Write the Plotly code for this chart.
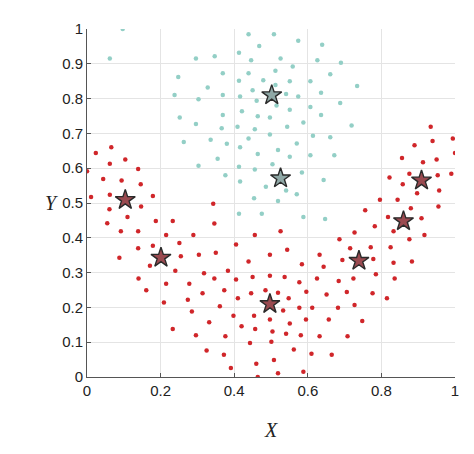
import plotly.graph_objects as go

# teal cluster
teal_x = [.097, .062, .439, .508, .468, .574, .639, .296, .347, .413, .446, .526, .690, .626, .559,
          .248, .369, .439, .512, .661, .413, .479, .551, .607, .734, .328, .450, .512, .238, .303,
          .369, .416, .461, .541, .574, .636, .688, .421, .515, .551, .607, .252, .296, .369, .464,
          .497, .636, .588, .366, .409, .456, .544, .719, .497, .614, .263, .336, .380, .439, .570,
          .661, .416, .519, .464, .551, .607, .672, .355, .303, .413, .456, .504, .376, .416, .584,
          .643, .486, .541, .570, .454, .519, .413, .475, .588, .647]
teal_y = [1.0, .915, .985, .985, .951, .966, .955, .915, .922, .932, .910, .915, .903, .910, .892,
          .862, .873, .873, .880, .870, .851, .853, .850, .850, .836, .832, .824, .839, .810, .798,
          .810, .806, .794, .813, .806, .817, .787, .764, .780, .768, .776, .746, .727, .753, .749,
          .746, .753, .731, .715, .719, .712, .719, .723, .697, .693, .675, .682, .670, .685, .671,
          .689, .660, .652, .641, .633, .637, .637, .627, .607, .604, .596, .611, .580, .562, .588,
          .566, .547, .536, .525, .514, .506, .469, .469, .460, .454]

# red cluster
red_x = [.934, .994, .939, .890, 1.0, .066, .024, .104, .062, .856, .913, .950, 0, .139, .044, .094,
         .146, .822, .876, .953, .990, .858, .011, .062, .179, .897, .957, .061, .147, .343, .796,
         .844, .955, .880, .110, .187, .233, .346, .055, .756, .818, .909, .092, .139, .215, .289,
         .456, .526, .782, .727, .833, .917, .686, .876, .251, .179, .139, .304, .350, .405, .497,
         .544, .715, .771, .825, .088, .255, .439, .632, .694, .778, .171, .643, .584, .883, .833,
         .240, .383, .318, .140, .346, .405, .450, .497, .537, .577, .625, .684, .724, .785, .836,
         .161, .215, .278, .373, .446, .485, .519, .596, .706, .776, .651, .209, .274, .314, .410,
         .548, .533, .577, .612, .682, .727, .815, .285, .361, .398, .454, .497, .595, .657, .748,
         .332, .420, .457, .551, .233, .296, .376, .504, .541, .581, .632, .708, .443, .501, .325,
         .372, .562, .610, .665, .508, .391, .460, .519, .588, .464]
red_y = [.719, .685, .678, .666, .644, .660, .644, .625, .613, .629, .617, .625, .591, .598, .569, .565,
         .554, .573, .584, .580, .584, .554, .517, .524, .520, .528, .536, .482, .490, .498, .509,
         .509, .490, .485, .460, .448, .448, .441, .442, .479, .460, .456, .419, .419, .408, .408,
         .408, .419, .433, .415, .419, .408, .396, .396, .385, .377, .370, .351, .357, .381, .351,
         .366, .370, .373, .373, .343, .347, .332, .351, .336, .339, .320, .317, .324, .332, .328,
         .305, .305, .298, .283, .283, .280, .287, .291, .287, .272, .283, .276, .283, .295, .283,
         .249, .268, .268, .249, .241, .249, .242, .245, .244, .241, .237, .214, .222, .241, .226,
         .226, .191, .199, .199, .199, .207, .226, .188, .203, .176, .176, .165, .165, .165, .161,
         .157, .146, .138, .154, .138, .120, .117, .131, .124, .120, .117, .117, .098, .101, .076,
         .064, .079, .067, .064, .049, .026, .038, .011, .015, 0]

# cluster centres
red_cx = [.104, .201, .497, .739, .860, .909]
red_cy = [.509, .343, .210, .334, .448, .565]
teal_cx = [.502, .526]
teal_cy = [.810, .571]

fig = go.Figure()
fig.add_trace(go.Scatter(x=teal_x, y=teal_y, mode='markers',
                         marker=dict(size=4.5, color='#93cfc6')))
fig.add_trace(go.Scatter(x=red_x, y=red_y, mode='markers',
                         marker=dict(size=4.5, color='#d0262a')))
fig.add_trace(go.Scatter(x=red_cx, y=red_cy, mode='markers',
                         marker=dict(symbol='star', size=15, color='#9a4a50',
                                     line=dict(color='#2a2a2a', width=1.4))))
fig.add_trace(go.Scatter(x=teal_cx, y=teal_cy, mode='markers',
                         marker=dict(symbol='star', size=15, color='#8fa8a6',
                                     line=dict(color='#2a2a2a', width=1.4))))

axis_common = dict(showgrid=True, gridcolor='#e4e4e4', zeroline=False,
                   showline=True, linecolor='#555', linewidth=1,
                   ticks='inside', ticklen=4, tickcolor='#555',
                   tickfont=dict(family='Liberation Sans', size=15, color='#222'))
fig.update_layout(
    width=474, height=454,
    margin=dict(l=79, r=27, t=18, b=85),
    plot_bgcolor='white', paper_bgcolor='white',
    showlegend=False,
    xaxis=dict(range=[0, 1], tickvals=[0, .2, .4, .6, .8, 1],
               ticktext=['0', '0.2', '0.4', '0.6', '0.8', '1'],
               title=dict(text='<i>X</i>', font=dict(family='Liberation Serif', size=20, color='#222'),
                          standoff=24),
               **axis_common),
    yaxis=dict(range=[0, 1], tickvals=[i / 10 for i in range(11)],
               ticktext=['0', '0.1', '0.2', '0.3', '0.4', '0.5', '0.6', '0.7', '0.8', '0.9', '1'],
               **axis_common),
    annotations=[dict(text='<i>Y</i>', x=-0.12, y=0.5, xref='paper', yref='paper',
                      showarrow=False, font=dict(family='Liberation Serif', size=20, color='#222'))],
)
fig.write_html("out.html")
